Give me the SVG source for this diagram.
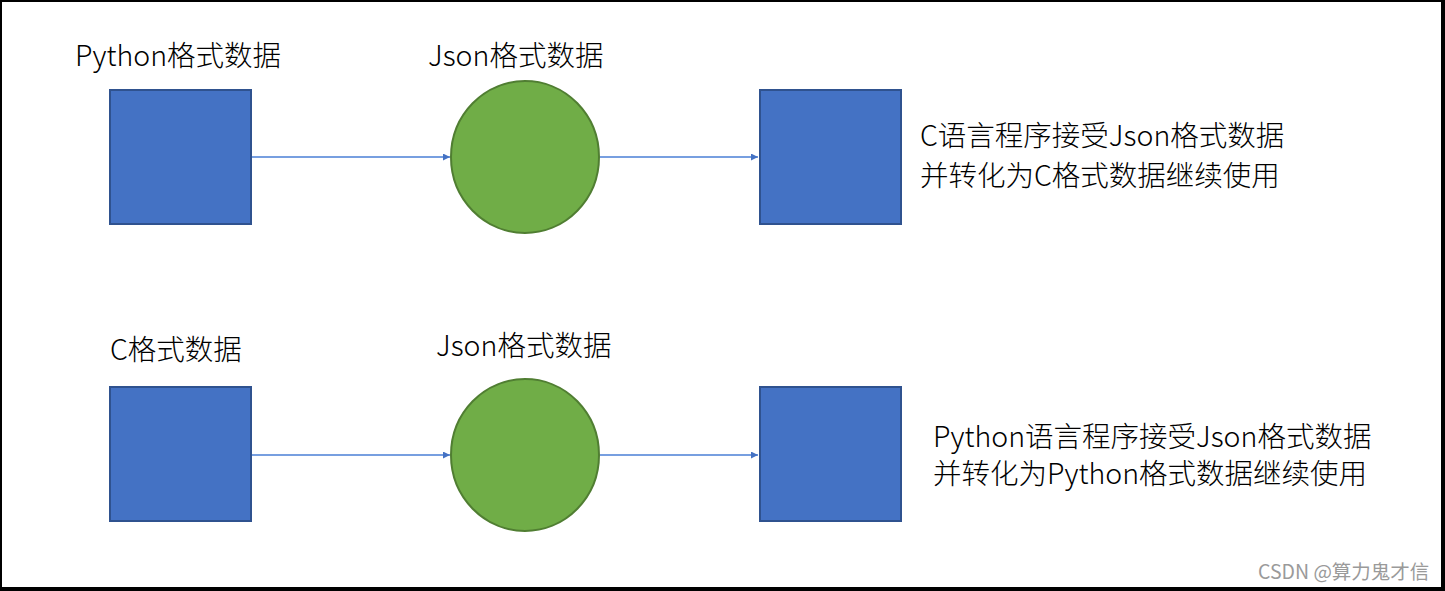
<svg xmlns="http://www.w3.org/2000/svg" width="1445" height="591" viewBox="0 0 1445 591">
<style>
.box{fill:#4472C4;stroke:#2F528F;stroke-width:2}
.ball{fill:#70AD47;stroke:#507E32;stroke-width:2}
.lbl{font-family:"Noto Sans CJK SC","Noto Sans",sans-serif;font-size:28.5px;font-weight:300;fill:#000}
.wm{font-family:"Noto Sans CJK SC","Noto Sans",sans-serif;font-size:19.5px;fill:#9a9a9a}
.conn{stroke:#4A7FD6;stroke-width:1.5;fill:none;marker-end:url(#arr)}
</style>
<defs>
<marker id="arr" viewBox="0 0 10 10" refX="10" refY="5" markerWidth="7" markerHeight="7" orient="auto" markerUnits="userSpaceOnUse">
<path d="M0,0 L10,5 L0,10 z" fill="#4472C4"/>
</marker>
</defs>
<rect x="0" y="0" width="1445" height="591" fill="#fff"/>
<g id="frame" fill="#000">
<rect x="0" y="0" width="1445" height="2"/>
<rect x="0" y="0" width="2" height="591"/>
<rect x="1441" y="0" width="4" height="591"/>
<rect x="0" y="587" width="1445" height="4"/>
</g>
<g id="connectors">
<line class="conn" x1="252" y1="157" x2="450" y2="157"/>
<line class="conn" x1="600" y1="157" x2="758" y2="157"/>
<line class="conn" x1="252" y1="455" x2="450" y2="455"/>
<line class="conn" x1="600" y1="455" x2="758" y2="455"/>
</g>
<g id="py-src">
<rect class="box" x="110" y="90" width="141" height="134"/>
<text class="lbl" x="75" y="66">Python格式数据</text>
</g>
<g id="json-top">
<ellipse class="ball" cx="525" cy="157" rx="74" ry="76"/>
<text class="lbl" x="428" y="66">Json格式数据</text>
</g>
<g id="c-dst">
<rect class="box" x="760" y="90" width="141" height="134"/>
<text class="lbl" x="920" y="146">C语言程序接受Json格式数据</text>
<text class="lbl" x="920" y="186">并转化为C格式数据继续使用</text>
</g>
<g id="c-src">
<rect class="box" x="110" y="387" width="141" height="134"/>
<text class="lbl" x="110" y="360">C格式数据</text>
</g>
<g id="json-bottom">
<ellipse class="ball" cx="525" cy="455" rx="74" ry="76"/>
<text class="lbl" x="436" y="356">Json格式数据</text>
</g>
<g id="py-dst">
<rect class="box" x="760" y="387" width="141" height="134"/>
<text class="lbl" x="933" y="447">Python语言程序接受Json格式数据</text>
<text class="lbl" x="933" y="484">并转化为Python格式数据继续使用</text>
</g>
<text class="wm" x="1258" y="579">CSDN @算力鬼才信</text>
</svg>
